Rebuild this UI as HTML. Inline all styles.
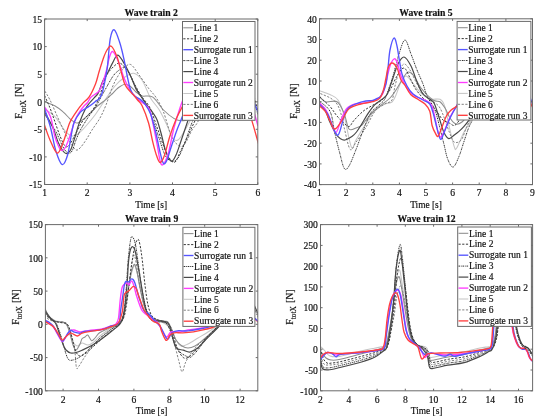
<!DOCTYPE html>
<html><head><meta charset="utf-8"><title>Wave trains</title>
<style>html,body{margin:0;padding:0;background:#fff;overflow:hidden}svg{display:block}</style></head>
<body><svg width="550" height="420" viewBox="0 0 550 420" font-family='"Liberation Serif", "Times New Roman", serif' font-size="9.6" fill="#111">
<style>text{stroke:#111;stroke-width:0.18px}</style>
<rect width="550" height="420" fill="#fff"/>
<clipPath id="cTL"><rect x="44.6" y="19" width="213.2" height="165.5"/></clipPath>
<g clip-path="url(#cTL)" fill="none" stroke-linejoin="round">
<path d="M43,108C46.9,110.8 51,112.5 54.7,116.4C58.4,120.3 62.5,128.1 65.4,131.4C68.3,134.7 69.9,135.6 72,136C74.1,136.4 75.7,135.7 78,134C80.3,132.3 83.2,129.2 86,126C88.8,122.8 91.8,119.3 95,115C98.2,110.7 101.7,104.8 105,100C108.3,95.2 111.7,89.8 115,86C118.3,82.2 121.9,79.1 125,77C128.1,74.9 130.9,72.8 133.7,73.3C136.5,73.8 139.2,75.9 142,80C144.8,84.1 147.6,93 150.5,98C153.4,103 156.4,105.2 159.3,110C162.2,114.8 165.7,122.4 167.8,127C169.9,131.6 170.4,135.6 172.1,137.8C173.8,140 175.8,141.3 178,140C180.2,138.7 182.2,134.7 185,130C187.8,125.3 191.7,117.3 195,112C198.3,106.7 201.7,102.7 205,98" stroke="#c6c6c6" stroke-width="1.05"/>
<path d="M43,101C46.9,102.6 51.3,103.9 54.7,105.7C58.1,107.5 60.8,109.9 63.3,112.1C65.8,114.2 67.9,117 69.7,118.6C71.5,120.2 72.6,121.1 74,121.8C75.4,122.5 76.2,123.7 78.3,122.8C80.4,121.9 83.9,118.9 86.8,116.4C89.7,113.9 92.2,110.7 95.4,107.8C98.6,104.9 103.3,101.6 106.1,99.3C108.9,97 110,95.9 112,94C114,92.1 115.9,89.6 118,88C120.1,86.4 122.8,84.5 124.8,84.2C126.8,83.9 128.1,84.7 130,86C131.9,87.3 134,90.3 136,92C138,93.7 139.2,95.2 142,96C144.8,96.8 149.2,94.8 152.8,97.1C156.4,99.4 159.9,106.4 163.5,110C167.1,113.6 171,116.8 174.2,118.6C177.4,120.4 180.2,120.8 182.8,120.7C185.4,120.6 187.1,120.1 190,118C192.9,115.9 196.7,111.3 200,108" stroke="#8c8c8c" stroke-width="1.05"/>
<path d="M43,88C45.3,92 47.5,95 50,100C52.5,105 55.5,112.5 58,118C60.5,123.5 62.7,128.5 65,133C67.3,137.5 70.2,142.2 72,145C73.8,147.8 74.7,149.5 76,150C77.3,150.5 78.3,149.7 80,148C81.7,146.3 84,143 86,140C88,137 89.7,133.7 92,130C94.3,126.3 97.7,122.2 100,118C102.3,113.8 104,110 106,105C108,100 110,92.8 112,88C114,83.2 116,79.3 118,76C120,72.7 121.9,69.9 124,68C126.1,66.1 128.3,63.5 130.7,64.5C133.1,65.5 135.6,70.3 138.6,74.3C141.6,78.2 145.5,84.2 148.5,88.2C151.5,92.2 153.9,94 156.4,98C158.9,102 160.9,105.4 163.5,112C166.1,118.6 169.2,132.1 172.1,137.8C175,143.5 178.4,145.7 180.7,146.4C183,147.1 184.1,144.7 186,142C187.9,139.3 190.1,133.2 192,130C193.9,126.8 195.5,126.1 197.3,122.8C199.1,119.5 201.1,114.3 203,110" stroke="#808080" stroke-width="1.0" stroke-dasharray="2.2,1.5"/>
<path d="M43,92C45.3,97.3 48,103 50,108C52,113 53.3,117.3 55,122C56.7,126.7 58.3,131.9 60,136C61.7,140.1 63.7,145.1 65.4,146.4C67.1,147.7 68.2,146.2 70,144C71.8,141.8 74,136.7 76,133C78,129.3 80,125 82,122C84,119 86,117.3 88,115C90,112.7 92,111.3 94,108C96,104.7 98,100.3 100,95C102,89.7 103.5,81.2 106,76.3C108.5,71.4 112.4,67.5 114.9,65.4C117.4,63.3 118.5,62.3 120.8,63.5C123.1,64.7 126.3,68.8 128.7,72.4C131.1,76 132.8,80.9 135,85C137.2,89.1 139.5,93.2 142,97C144.5,100.8 147.3,102.5 150,108C152.7,113.5 155.3,122.7 158,130C160.7,137.3 163.3,146.6 166,152C168.7,157.4 171.8,162.7 174.2,162.5C176.6,162.3 178.5,154.8 180.7,150.7C182.8,146.6 184.9,142.5 187.1,137.8C189.3,133.2 191.8,127.4 194,122.8C196.2,118.2 198,114.3 200,110" stroke="#383838" stroke-width="1.0" stroke-dasharray="2.2,1.5"/>
<path d="M43,112C47,118 51.7,124.2 55,130C58.3,135.8 60.8,143.2 63,147C65.2,150.8 66.5,152.3 68,153C69.5,153.7 70.7,153.2 72,151C73.3,148.8 74.6,143.5 76,140C77.4,136.5 78.4,133.8 80.4,130C82.5,126.2 85.9,120.8 88.3,117.1C90.7,113.4 93,111 95,108C97,105 98.3,102 100,99C101.7,96 102.8,93.8 105,90C107.2,86.2 110.6,79.6 112.9,76.3C115.2,73 116.8,71.9 118.8,70.4C120.8,68.9 122.9,66.6 124.8,67.4C126.7,68.2 128.1,71.6 130,75C131.9,78.4 134,84.2 136,88C138,91.8 139.7,94 142,98C144.3,102 147.3,105.8 150,112C152.7,118.2 155.5,127.8 158,135C160.5,142.2 162.7,150.6 165,155C167.3,159.4 169.9,160.9 172.1,161.4C174.3,161.9 176,160.7 178,158C180,155.3 182,150 184,145C186,140 188,133.5 190,128C192,122.5 194,117.3 196,112" stroke="#333" stroke-width="1.0" stroke-dasharray="1.6,0.8,0.8,0.8"/>
<path d="M43,109C46.2,115 50.1,121.6 52.6,127.1C55.1,132.6 56.3,138 58,142C59.7,146 61.6,149.1 63,151C64.4,152.9 65.1,153.8 66.4,153.6C67.7,153.4 69.2,152.8 70.6,150C72,147.2 73.6,141.4 75,137C76.4,132.6 77.3,128.2 79.1,123.5C80.9,118.8 83.8,112.1 85.6,108.6C87.4,105.1 88.6,104.3 90,102.5C91.4,100.7 92.7,99.4 94.1,97.8C95.5,96.2 96.9,95.6 98.3,92.9C99.7,90.2 101.2,84.5 102.6,81.4C104,78.3 105.2,77.4 106.9,74.3C108.6,71.2 110.8,66.1 112.6,62.9C114.4,59.7 115.8,54.9 117.8,55.2C119.8,55.5 122.7,61 124.8,64.5C126.9,68 128.7,72 130.7,76.3C132.7,80.5 134.7,86.4 136.6,90C138.5,93.6 140.4,95.5 142.1,98C143.8,100.5 145.2,102.5 147,105C148.8,107.5 151.3,110.5 153,113C154.7,115.5 155.8,116.7 157.1,120C158.4,123.3 159.5,127.7 161,133C162.5,138.3 164.3,147.3 166,152C167.7,156.7 169.7,160.6 171.4,161.1C173.1,161.6 174.4,158.3 176,155C177.6,151.7 179,146.8 181,141C183,135.2 186.1,125.8 188.1,120C190.1,114.2 191,110.2 193,106C195,101.8 197.7,98.7 200,95" stroke="#484848" stroke-width="1.2"/>
<path d="M43,105C45.5,108.8 48.4,111.3 50.4,116.4C52.4,121.5 53.4,130.9 54.7,135.7C56,140.5 56.9,142.5 58,145C59.1,147.5 60.3,150 61.5,150.5C62.7,151 63.8,149.8 65,148C66.2,146.2 67.3,143 68.5,140C69.7,137 71,132.8 71.9,130C72.8,127.2 73.2,125.2 74,122.9C74.8,120.6 75.8,118.4 76.9,116.4C78,114.4 79.2,112.4 80.4,110.7C81.6,109 82.8,107.4 84,106C85.2,104.6 86.4,104 87.6,102.5C88.8,101 89.5,98.7 91.1,97.1C92.6,95.5 95.5,94.1 96.9,92.9C98.3,91.7 98.5,92.4 99.7,90C100.9,87.6 102.8,82.2 104,78.6C105.2,75 106,72.2 106.9,68.6C107.8,65 108.5,59.8 109.5,57C110.5,54.2 111.4,50.7 112.9,51.6C114.5,52.5 117,58.1 118.8,62.5C120.6,66.9 122.1,73.4 124,78C125.9,82.6 127.7,86.5 130,90C132.3,93.5 134.7,96.3 137.8,99.3C140.9,102.3 146,103.9 148.5,107.8C151,111.7 151.4,116.7 152.8,122.8C154.2,128.9 155.7,137.3 157.1,144.3C158.5,151.3 159.6,162.8 161.4,164.6C163.2,166.4 165.7,161.2 167.8,155C169.9,148.8 172,135.3 174.2,127.1C176.3,118.9 178.7,111.5 180.7,105.7C182.7,99.9 184.2,96.6 186,92" stroke="#ff3cff" stroke-width="1.35"/>
<path d="M43,104C45.5,111.7 48.3,119.2 50.4,127C52.5,134.8 53.8,144.4 55.8,150.7C57.8,157 60.2,163.9 62.2,164.6C64.2,165.3 66.2,159.5 67.6,155C69,150.5 69.7,143.2 70.8,137.8C71.9,132.4 72.4,127.1 74,122.8C75.6,118.5 78.3,114.6 80.4,112.1C82.5,109.6 85.2,108.9 86.8,107.8C88.4,106.7 88.6,106.8 90,105.7C91.4,104.6 93.8,102.7 95.4,101.4C97,100.2 98.4,100.1 99.7,98.2C101,96.3 101.8,95 103,90C104.2,85 106,76.9 107.2,68.4C108.4,59.9 109,45.2 110.2,38.8C111.4,32.4 112.7,29.2 114.3,29.9C115.9,30.6 118.2,37.9 119.8,42.7C121.4,47.5 122.5,52.6 123.8,58.5C125.1,64.4 126.6,73 127.7,78.3C128.8,83.6 129.5,87.1 130.7,90.1C131.8,93 133,94.5 134.6,96C136.2,97.5 138.3,98 140,99.3C141.7,100.6 143.2,101.5 145,104C146.8,106.5 148.9,109.4 150.7,114.3C152.5,119.2 154.4,127.2 156,133.5C157.6,139.8 158.8,147 160,152C161.2,157 162.3,162.2 163.5,163.5C164.7,164.8 165.9,162.1 167,160C168.1,157.9 168.4,155.5 170,150.7C171.6,145.9 174.6,136.4 176.4,131.4C178.2,126.4 179.3,124.3 180.7,120.7C182.1,117.1 183.4,113.5 185,110C186.6,106.5 188.3,103.3 190,100" stroke="#5555ff" stroke-width="1.35"/>
<path d="M43,121C45.3,127.3 47.6,134.6 50,140C52.4,145.4 55.1,152.8 57.3,153.2C59.5,153.5 61.2,147.2 63.3,142.1C65.4,137 67.6,127.8 69.7,122.8C71.8,117.8 74,115.3 76.1,112.1C78.2,108.9 80.3,106.1 82.5,103.6C84.7,101.1 86.8,100.3 89,97.1C91.2,93.9 93.7,88.4 95.4,84.2C97.1,80 97.7,76.3 99,72C100.3,67.7 102,62.2 103.3,58.5C104.6,54.8 105.7,52 107,50C108.3,48 109.6,45.2 111.3,46.3C113,47.4 115.3,52.5 116.9,56.5C118.5,60.5 119.5,65.8 120.8,70.4C122.1,75 123.2,80.6 124.8,84.2C126.4,87.8 129.2,90.3 130.7,92.1C132.2,93.9 132.4,93.7 133.6,95C134.8,96.3 136.2,98.2 137.6,100C139,101.8 140.3,101.9 142.1,105.7C143.9,109.5 146.7,116.7 148.5,122.8C150.3,128.9 151.4,136.4 152.8,142.1C154.2,147.8 155.8,153.7 157.1,157.1C158.3,160.5 159.1,162.8 160.3,162.5C161.6,162.2 163,159.5 164.6,155C166.2,150.5 168,141.8 170,135.7C172,129.6 174.5,123.2 176.4,118.6C178.3,113.9 179.8,111.2 181.7,107.8C183.6,104.4 185.9,101.3 188,98" stroke="#ff4040" stroke-width="1.35"/>
<path d="M252,90C253,93.3 254,96.3 255,100C256,103.7 257,108 258,112" stroke="#383838" stroke-width="1.0" stroke-dasharray="2.2,1.5"/>
<path d="M252,93C253,96.7 254,100.3 255,104C256,107.7 257,111.3 258,115" stroke="#333" stroke-width="1.0" stroke-dasharray="1.6,0.8,0.8,0.8"/>
<path d="M253,100C254.1,102.6 255.4,105.6 256.4,107.9C257.4,110.2 258.1,112 259,114" stroke="#5555ff" stroke-width="1.35"/>
<path d="M253,110C253.9,112.6 254.9,115.2 255.7,117.9C256.5,120.6 257.2,123.3 258,126" stroke="#ff3cff" stroke-width="1.35"/>
<path d="M250,116C250.7,117.8 250.8,117.3 252.1,121.4C253.4,125.5 256.5,136.8 257.6,140.7C258.8,144.6 258.5,143.6 259,145" stroke="#ff4040" stroke-width="1.35"/>
</g>
<rect x="44.6" y="19" width="213.2" height="165.5" fill="none" stroke="#6a6a6a" stroke-width="1"/>
<text x="44.6" y="196.2" text-anchor="middle">1</text>
<text x="87.2" y="196.2" text-anchor="middle">2</text>
<text x="129.9" y="196.2" text-anchor="middle">3</text>
<text x="172.5" y="196.2" text-anchor="middle">4</text>
<text x="215.2" y="196.2" text-anchor="middle">5</text>
<text x="257.8" y="196.2" text-anchor="middle">6</text>
<text x="42" y="188.2" text-anchor="end">-15</text>
<text x="42" y="160.6" text-anchor="end">-10</text>
<text x="42" y="133" text-anchor="end">-5</text>
<text x="42" y="105.5" text-anchor="end">0</text>
<text x="42" y="77.9" text-anchor="end">5</text>
<text x="42" y="50.3" text-anchor="end">10</text>
<text x="42" y="22.7" text-anchor="end">15</text>
<path d="M44.6,184.5V182.4M44.6,19V21.1M87.2,184.5V182.4M87.2,19V21.1M129.9,184.5V182.4M129.9,19V21.1M172.5,184.5V182.4M172.5,19V21.1M215.2,184.5V182.4M215.2,19V21.1M257.8,184.5V182.4M257.8,19V21.1M44.6,184.5H46.7M257.8,184.5H255.7M44.6,156.9H46.7M257.8,156.9H255.7M44.6,129.3H46.7M257.8,129.3H255.7M44.6,101.8H46.7M257.8,101.8H255.7M44.6,74.2H46.7M257.8,74.2H255.7M44.6,46.6H46.7M257.8,46.6H255.7M44.6,19H46.7M257.8,19H255.7" stroke="#6a6a6a" stroke-width="1" fill="none"/>
<text x="151.2" y="16.2" text-anchor="middle" font-weight="bold" font-size="9.7">Wave train 2</text>
<text x="151.2" y="207.5" text-anchor="middle" font-size="9.4">Time [s]</text>
<text transform="translate(22.3,101.2) rotate(-90)" text-anchor="middle" font-size="10">F<tspan font-size="7.4" dy="3.2" style="stroke-width:0.15px">totX</tspan><tspan dy="-3.2" dx="0.8" font-size="9.6"> [N]</tspan></text>
<rect x="182.5" y="21.5" width="72.5" height="98.8" fill="#fff" stroke="#6a6a6a" stroke-width="1"/>
<path d="M183.3,27.8H193.1" stroke="#8c8c8c" stroke-width="1.05"/>
<text x="193.7" y="31" font-size="9.5">Line 1</text>
<path d="M183.3,38.8H193.1" stroke="#383838" stroke-width="1.0" stroke-dasharray="2.2,1.5"/>
<text x="193.7" y="42" font-size="9.5">Line 2</text>
<path d="M183.3,49.7H193.1" stroke="#5555ff" stroke-width="1.35"/>
<text x="193.7" y="52.9" font-size="9.5">Surrogate run 1</text>
<path d="M183.3,60.6H193.1" stroke="#333" stroke-width="1.0" stroke-dasharray="1.6,0.8,0.8,0.8"/>
<text x="193.7" y="63.8" font-size="9.5">Line 3</text>
<path d="M183.3,71.6H193.1" stroke="#484848" stroke-width="1.2"/>
<text x="193.7" y="74.8" font-size="9.5">Line 4</text>
<path d="M183.3,82.5H193.1" stroke="#ff3cff" stroke-width="1.35"/>
<text x="193.7" y="85.8" font-size="9.5">Surrogate run 2</text>
<path d="M183.3,93.5H193.1" stroke="#c6c6c6" stroke-width="1.05"/>
<text x="193.7" y="96.7" font-size="9.5">Line 5</text>
<path d="M183.3,104.4H193.1" stroke="#808080" stroke-width="1.0" stroke-dasharray="2.2,1.5"/>
<text x="193.7" y="107.6" font-size="9.5">Line 6</text>
<path d="M183.3,115.4H193.1" stroke="#ff4040" stroke-width="1.35"/>
<text x="193.7" y="118.6" font-size="9.5">Surrogate run 3</text>
<clipPath id="cTR"><rect x="319.5" y="18.8" width="213" height="165.8"/></clipPath>
<g clip-path="url(#cTR)" fill="none" stroke-linejoin="round">
<path d="M317,89.8C321.3,91.4 326.4,92.8 329.9,94.5C333.4,96.2 335.6,96.6 338,100C340.4,103.4 341.8,107.2 344,115C346.2,122.8 349.3,142.7 351.3,146.9C353.3,151.1 353.7,143.7 356,140C358.3,136.3 361.8,130 365,125C368.2,120 371.7,113.5 375,110C378.3,106.5 382.2,105.3 385,104C387.8,102.7 390.2,103.5 392,102C393.8,100.5 394.5,98.3 396,95C397.5,91.7 399.3,85.2 401,82C402.7,78.8 404.2,76 406,76C407.8,76 409.7,79.3 412,82C414.3,84.7 417,89.2 420,92C423,94.8 426.7,97.8 430,99C433.3,100.2 437.5,98.1 440,99.3C442.5,100.5 443.2,101.6 444.8,106.4C446.4,111.2 447.9,121.2 449.5,127.9C451.1,134.7 453.1,143.6 454.3,146.9C455.5,150.2 455.1,150.4 456.7,148C458.3,145.6 461.4,137.2 463.8,132.6C466.2,128 469,124.1 471,120.7C473,117.3 474.3,114.9 476,112" stroke="#c6c6c6" stroke-width="1.05"/>
<path d="M317,93.3C319.7,96.1 321.8,100.3 325.1,101.7C328.4,103.1 333.8,99.7 337,101.7C340.2,103.7 342.2,109 344.2,113.6C346.2,118.1 347,126.6 349,129C351,131.4 353.9,128.6 356.1,127.9C358.3,127.2 359.7,127.2 362,125C364.3,122.8 367,118.2 370,115C373,111.8 376.7,108.8 380,106C383.3,103.2 387.3,100.7 390,98C392.7,95.3 394,93 396,90C398,87 400,83 402,80C404,77 406,72.7 408,72C410,71.3 411.8,73.3 414,76C416.2,78.7 417.8,84 421,88C424.2,92 429.8,97.7 433,100C436.2,102.3 438,100.4 440,101.7C442,103 443.3,105.3 445,108C446.7,110.7 448.2,115.3 450,118C451.8,120.7 454,123.3 456,124C458,124.7 460,123.5 462,122C464,120.5 466,117.3 468,115C470,112.7 472,110.3 474,108" stroke="#8c8c8c" stroke-width="1.05"/>
<path d="M317,92.1C322.1,94.5 328.6,96.5 332.3,99.3C336,102.1 337.4,104 339.4,108.8C341.4,113.6 342.4,121.2 344.2,127.9C346,134.7 348.1,146.9 350.1,149.3C352.1,151.7 353.5,145.7 356.1,142.1C358.7,138.5 362.4,133.1 365.6,127.9C368.8,122.8 371.9,115.2 375.1,111.2C378.3,107.2 381.9,105.9 384.7,104C387.5,102.1 390.3,103 392,100C393.7,97 393.8,90.7 395,86C396.2,81.3 397.5,75.7 399,72C400.5,68.3 402.2,64.3 404,64C405.8,63.7 408,67 410,70C412,73 414,78.3 416,82C418,85.7 419.7,89 422,92C424.3,95 427,97.3 430,100C433,102.7 436.8,102.6 440,108C443.2,113.4 447.1,126.9 449.5,132.6C451.9,138.3 452.3,140.9 454.3,142.1C456.3,143.3 459.4,142.2 461.4,139.8C463.4,137.4 464.6,131.5 466.2,127.9C467.8,124.3 469.4,121.3 471,118" stroke="#808080" stroke-width="1.0" stroke-dasharray="2.2,1.5"/>
<path d="M317,94.5C321.3,98.5 326.6,102.8 329.9,106.4C333.2,110 334.2,112.8 337,116C339.8,119.2 344.4,123.8 346.6,125.5C348.8,127.2 348.8,126.8 350,126C351.2,125.2 351.5,123.2 353.7,120.7C355.9,118.2 360,113.8 363.2,111.2C366.4,108.6 369.7,107.1 372.8,105.2C375.9,103.3 379.1,102.5 382,100C384.9,97.5 387.5,94 390,90C392.5,86 394.7,79.7 397,76C399.3,72.3 401.8,67.7 404,68C406.2,68.3 408.2,74.7 410,78C411.8,81.3 413,84.8 415,88C417,91.2 419.5,94.3 422,97C424.5,99.7 427.5,101.5 430,104C432.5,106.5 434.8,109.3 437,112C439.2,114.7 440.9,118.2 443,120C445.1,121.8 447.6,122.2 449.5,123.1C451.4,124 452.7,125.9 454.3,125.5C455.9,125.1 457.2,123 459,120.7C460.8,118.5 463.2,114.6 465,112C466.8,109.4 468.3,107.3 470,105" stroke="#383838" stroke-width="1.0" stroke-dasharray="2.2,1.5"/>
<path d="M317,99.3C321.3,103.3 326.9,105.7 329.9,111.2C332.8,116.8 333.1,125.8 334.7,132.6C336.3,139.3 337.8,145.8 339.4,151.7C341,157.6 342.6,165.9 344.2,168.3C345.8,170.7 347,169.2 349,166C351,162.8 353.7,155.3 356.1,149.3C358.5,143.3 360.8,136.1 363.2,130.2C365.6,124.2 368,117.6 370.4,113.6C372.8,109.6 375.1,108.8 377.5,106.4C379.9,104 382.8,102.4 384.7,99.3C386.6,96.2 387.6,91.9 389,88C390.4,84.1 391.3,81.7 393,76C394.7,70.3 397,60 399,54C401,48 403,40 405,40C407,40 409,49 411,54C413,59 415,65 417,70C419,75 421.3,79.5 423,84C424.7,88.5 425.5,92.8 427.4,96.9C429.3,101 432.5,104 434.5,108.8C436.5,113.6 437.7,119.5 439.3,125.5C440.9,131.4 442.6,138.9 444,144.5C445.4,150.1 446.1,155 447.6,158.8C449.1,162.6 451.2,167.5 453.1,167.1C455,166.7 457.2,160.6 459,156.4C460.8,152.2 462.2,146.8 463.8,142.1C465.4,137.3 467.2,131.5 468.6,127.9C470,124.3 470.9,123.4 472.1,120.7C473.3,118 474.7,114.9 476,112" stroke="#333" stroke-width="1.0" stroke-dasharray="1.6,0.8,0.8,0.8"/>
<path d="M317,101C319.6,103.8 322.8,106.1 324.8,109.4C326.9,112.7 327.4,116.5 329.3,120.7C331.2,124.9 334.2,131.3 336.1,134.3C338,137.3 339.1,137.9 340.6,138.8C342.1,139.8 343.2,140.4 345.1,140C347,139.6 350,137.9 351.9,136.6C353.8,135.3 355,133.9 356.5,132C358,130.1 359.1,128.2 361,125.2C362.9,122.2 365.5,117.3 367.8,113.9C370.1,110.5 372.4,107.2 374.6,104.9C376.8,102.6 378.9,101.7 381,100C383.1,98.3 385,98.2 387,94.5C389,90.8 391.2,83.1 393,78C394.8,72.9 396.2,67.5 398,64C399.8,60.5 401.8,56.7 404,57C406.2,57.3 408.8,61.8 411,66C413.2,70.2 415,77.3 417,82C419,86.7 420.7,91 423,94C425.3,97 429.1,98.3 431,100C432.9,101.7 433.1,101 434.5,104C435.9,107 437.7,113.5 439.3,118.3C440.9,123.1 442.4,129.2 444,132.6C445.6,136 447.1,138.2 448.8,138.6C450.5,139 452.6,136.2 454.3,135C456,133.8 457.4,132.8 459,131.4C460.6,130 462.2,128.5 463.8,126.7C465.4,124.9 466.9,123.2 468.6,120.7C470.3,118.2 472.2,114.9 474,112" stroke="#484848" stroke-width="1.2"/>
<path d="M317,100.5C320,103.7 323.7,106.4 326,110C328.3,113.6 329.4,118.2 331,122C332.6,125.8 334.2,132.9 335.9,132.6C337.6,132.3 339.2,124 341,120C342.8,116 344.3,111.5 346.6,108.8C348.9,106.1 351.8,105 355,104C358.2,103 362.3,103.6 365.6,102.9C368.9,102.2 372.2,101.4 375,100C377.8,98.6 380.5,97.5 382.3,94.5C384.1,91.5 384.7,86.8 386,82C387.3,77.2 388.7,69.8 390,66C391.3,62.2 392.8,59.7 394,59C395.2,58.3 395.8,59.2 397,62C398.2,64.8 399.3,71.7 401,76C402.7,80.3 404.7,84.7 407,88C409.3,91.3 411.7,93.8 415,96C418.3,98.2 424.2,99.3 427,101C429.8,102.7 430.7,103.2 432,106C433.3,108.8 433.8,113 435,118C436.2,123 437.9,133.8 439.3,136.2C440.7,138.6 441.9,135.6 443.6,132.6C445.3,129.6 447.5,122.5 449.5,118.3C451.5,114.1 453.8,110.6 455.5,107.6C457.2,104.5 458.5,102.5 460,100" stroke="#ff3cff" stroke-width="1.35"/>
<path d="M317,101.7C320.5,105.7 324.9,109.6 327.5,113.6C330.1,117.6 330.5,121.9 332.3,125.5C334.1,129.1 336.2,136.6 338.2,135C340.2,133.4 342.4,120.6 344.2,116C346,111.4 346.6,109.8 349,107.6C351.4,105.4 355.7,104 358.5,102.9C361.3,101.8 363.6,101.4 366,101C368.4,100.6 370.8,101 372.8,100.5C374.8,100 376.6,98.8 378,98C379.4,97.2 379.8,98 381.1,95.7C382.4,93.4 384.9,88.6 386,84C387.1,79.4 387.3,73.7 388,68C388.7,62.3 389,55 390,50C391,45 392.8,38.7 394,38C395.2,37.3 396.2,42.7 397,46C397.8,49.3 398.2,53.3 399,58C399.8,62.7 400.7,69.3 402,74C403.3,78.7 405.2,82.7 407,86C408.8,89.3 410.3,91.7 413,94C415.7,96.3 420.2,98.3 423,100C425.8,101.7 428.1,101.7 429.8,104C431.5,106.3 432.1,109.6 433.3,113.6C434.5,117.6 435.7,123.6 436.9,127.9C438.1,132.2 439.3,138.5 440.5,139.3C441.7,140.1 442.6,135.7 444,132.6C445.4,129.5 447.2,124.3 448.8,120.7C450.4,117.1 452.1,114 453.6,111.2C455.1,108.4 456.1,106.7 458,104C459.9,101.3 462.7,98 465,95" stroke="#5555ff" stroke-width="1.35"/>
<path d="M317,104C319.7,106.4 323,108.4 325.1,111.2C327.2,114 328.3,117.7 329.9,120.7C331.5,123.7 332.7,129 334.7,129C336.7,129 339.4,124.1 341.8,120.7C344.2,117.3 345.8,111.6 349,108.8C352.2,106 356.9,105.2 360.9,104C364.9,102.8 369.6,102.7 372.8,101.7C376,100.7 378.1,100.1 379.9,98.1C381.7,96.1 382.5,93.1 383.5,89.8C384.5,86.5 385.2,81.6 386,78C386.8,74.4 387,70.5 388,68C389,65.5 390.5,63 392,63C393.5,63 395.5,65.2 397,68C398.5,70.8 399.7,77.2 401,80C402.3,82.8 403.2,82.6 404.8,85C406.4,87.4 408.5,92.1 410.7,94.5C412.9,96.9 415.5,97.7 417.9,99.3C420.3,100.9 423,102 425,104C427,106 428.6,107.6 429.8,111.2C431,114.8 431.1,121.7 432.1,125.5C433.1,129.3 434.7,132 435.7,133.8C436.7,135.6 437.1,137.2 438.1,136.2C439.1,135.2 440.3,131.3 441.7,127.9C443.1,124.5 444.8,119 446.4,116C448,113 449.5,111.6 451.2,110C452.9,108.4 454.9,107.6 456.7,106.4C458.5,105.2 460.2,104.1 462,103" stroke="#ff4040" stroke-width="1.35"/>
<path d="M529,94C529.7,96 530.2,97.8 531,100C531.8,102.2 533,104.7 534,107" stroke="#5555ff" stroke-width="1.35"/>
<path d="M529,98C529.7,100 530.2,102 531,104C531.8,106 533,108 534,110" stroke="#ff4040" stroke-width="1.35"/>
</g>
<rect x="319.5" y="18.8" width="213" height="165.8" fill="none" stroke="#6a6a6a" stroke-width="1"/>
<text x="319.5" y="196.3" text-anchor="middle">1</text>
<text x="346.1" y="196.3" text-anchor="middle">2</text>
<text x="372.8" y="196.3" text-anchor="middle">3</text>
<text x="399.4" y="196.3" text-anchor="middle">4</text>
<text x="426" y="196.3" text-anchor="middle">5</text>
<text x="452.6" y="196.3" text-anchor="middle">6</text>
<text x="479.2" y="196.3" text-anchor="middle">7</text>
<text x="505.9" y="196.3" text-anchor="middle">8</text>
<text x="532.5" y="196.3" text-anchor="middle">9</text>
<text x="316.9" y="188.3" text-anchor="end">-40</text>
<text x="316.9" y="167.6" text-anchor="end">-30</text>
<text x="316.9" y="146.8" text-anchor="end">-20</text>
<text x="316.9" y="126.1" text-anchor="end">-10</text>
<text x="316.9" y="105.4" text-anchor="end">0</text>
<text x="316.9" y="84.7" text-anchor="end">10</text>
<text x="316.9" y="64" text-anchor="end">20</text>
<text x="316.9" y="43.2" text-anchor="end">30</text>
<text x="316.9" y="22.5" text-anchor="end">40</text>
<path d="M319.5,184.6V182.5M319.5,18.8V20.9M346.1,184.6V182.5M346.1,18.8V20.9M372.8,184.6V182.5M372.8,18.8V20.9M399.4,184.6V182.5M399.4,18.8V20.9M426,184.6V182.5M426,18.8V20.9M452.6,184.6V182.5M452.6,18.8V20.9M479.2,184.6V182.5M479.2,18.8V20.9M505.9,184.6V182.5M505.9,18.8V20.9M532.5,184.6V182.5M532.5,18.8V20.9M319.5,184.6H321.6M532.5,184.6H530.4M319.5,163.9H321.6M532.5,163.9H530.4M319.5,143.2H321.6M532.5,143.2H530.4M319.5,122.4H321.6M532.5,122.4H530.4M319.5,101.7H321.6M532.5,101.7H530.4M319.5,81H321.6M532.5,81H530.4M319.5,60.2H321.6M532.5,60.2H530.4M319.5,39.5H321.6M532.5,39.5H530.4M319.5,18.8H321.6M532.5,18.8H530.4" stroke="#6a6a6a" stroke-width="1" fill="none"/>
<text x="426" y="16" text-anchor="middle" font-weight="bold" font-size="9.7">Wave train 5</text>
<text x="426" y="207.6" text-anchor="middle" font-size="9.4">Time [s]</text>
<text transform="translate(296.7,101.2) rotate(-90)" text-anchor="middle" font-size="10">F<tspan font-size="7.4" dy="3.2" style="stroke-width:0.15px">totX</tspan><tspan dy="-3.2" dx="0.8" font-size="9.6"> [N]</tspan></text>
<rect x="457.1" y="21.4" width="73.8" height="98.6" fill="#fff" stroke="#6a6a6a" stroke-width="1"/>
<path d="M457.9,27.7H467.7" stroke="#8c8c8c" stroke-width="1.05"/>
<text x="468.3" y="30.9" font-size="9.5">Line 1</text>
<path d="M457.9,38.6H467.7" stroke="#383838" stroke-width="1.0" stroke-dasharray="2.2,1.5"/>
<text x="468.3" y="41.9" font-size="9.5">Line 2</text>
<path d="M457.9,49.6H467.7" stroke="#5555ff" stroke-width="1.35"/>
<text x="468.3" y="52.8" font-size="9.5">Surrogate run 1</text>
<path d="M457.9,60.5H467.7" stroke="#333" stroke-width="1.0" stroke-dasharray="1.6,0.8,0.8,0.8"/>
<text x="468.3" y="63.8" font-size="9.5">Line 3</text>
<path d="M457.9,71.5H467.7" stroke="#484848" stroke-width="1.2"/>
<text x="468.3" y="74.7" font-size="9.5">Line 4</text>
<path d="M457.9,82.5H467.7" stroke="#ff3cff" stroke-width="1.35"/>
<text x="468.3" y="85.7" font-size="9.5">Surrogate run 2</text>
<path d="M457.9,93.4H467.7" stroke="#c6c6c6" stroke-width="1.05"/>
<text x="468.3" y="96.6" font-size="9.5">Line 5</text>
<path d="M457.9,104.3H467.7" stroke="#808080" stroke-width="1.0" stroke-dasharray="2.2,1.5"/>
<text x="468.3" y="107.5" font-size="9.5">Line 6</text>
<path d="M457.9,115.3H467.7" stroke="#ff4040" stroke-width="1.35"/>
<text x="468.3" y="118.5" font-size="9.5">Surrogate run 3</text>
<clipPath id="cBL"><rect x="45.4" y="224.6" width="212.4" height="166.2"/></clipPath>
<g clip-path="url(#cBL)" fill="none" stroke-linejoin="round">
<path d="M44,308C46,311 48,314.8 50,317C52,319.2 54,320.2 56,321C58,321.8 60.3,321.5 62,322C63.7,322.5 64.7,322.2 66,324C67.3,325.8 68.8,330 70,333C71.2,336 71.8,339.8 73,342C74.2,344.2 75.5,345.8 77,346C78.5,346.2 80.2,343.2 82,343C83.8,342.8 86,345.2 88,345C90,344.8 92,343.5 94,342C96,340.5 97.7,338 100,336C102.3,334 105.3,331.8 108,330C110.7,328.2 113.8,326.5 116,325C118.2,323.5 119.7,323.2 121,321C122.3,318.8 123,316.2 124,312C125,307.8 126,301.3 127,296C128,290.7 129,284.7 130,280C131,275.3 132.2,270.3 133,268C133.8,265.7 134.2,264.7 135,266C135.8,267.3 136.8,271.2 138,276C139.2,280.8 140.5,289 142,295C143.5,301 145,307.8 147,312C149,316.2 151.5,318.3 154,320C156.5,321.7 159.3,320.7 162,322C164.7,323.3 167.7,325 170,328C172.3,331 174.2,337 176,340C177.8,343 179,345.3 181,346C183,346.7 185.2,345.3 188,344C190.8,342.7 194.7,340 198,338C201.3,336 204.7,334.2 208,332C211.3,329.8 215,327.3 218,325C221,322.7 223.3,320.3 226,318" stroke="#c6c6c6" stroke-width="1.05"/>
<path d="M44,306C45.3,309 46.7,312.7 48,315C49.3,317.3 50.3,318.8 52,320C53.7,321.2 56.2,321.7 58,322C59.8,322.3 61.5,321.5 63,322C64.5,322.5 65.8,323 67,325C68.2,327 69,330.7 70,334C71,337.3 72,342.3 73,345C74,347.7 74.8,350.2 76,350C77.2,349.8 79,345.9 80,344C81,342.1 81.2,340 82,338.8C82.8,337.6 84,337.6 85,337C86,336.4 86.7,334.4 87.8,335C88.9,335.6 90.4,340.2 91.6,340.7C92.8,341.2 93.7,339.3 95,338C96.3,336.7 97.5,334.3 99.2,333C100.9,331.7 102.9,331 105,330C107.1,329 109.8,328 112,327C114.2,326 116.3,325.2 118,324C119.7,322.8 120.8,322.3 122,320C123.2,317.7 124.1,314.2 125,310C125.9,305.8 126.7,300.3 127.5,295C128.3,289.7 128.9,283.1 130,278C131.1,272.9 132.9,265.4 134.1,264.4C135.3,263.4 136,268.1 137,272C138,275.9 138.8,282.5 140,288C141.2,293.5 142.3,300.3 144,305C145.7,309.7 147.7,313.5 150,316C152.3,318.5 155.7,319.1 158,320C160.3,320.9 162.3,321 164,321.3C165.7,321.6 166.7,320.6 168,322C169.3,323.4 170.7,327 172,330C173.3,333 174.3,337.3 176,340C177.7,342.7 180,344.7 182,346C184,347.3 185.8,348 188,348C190.2,348 192.5,347.3 195,346C197.5,344.7 200.2,342.3 203,340C205.8,337.7 209.2,334.7 212,332C214.8,329.3 217.7,326.3 220,324C222.3,321.7 224,320 226,318" stroke="#8c8c8c" stroke-width="1.05"/>
<path d="M44,316C46,317.3 48.1,319.1 50,320C51.9,320.9 53.7,321.4 55.4,321.7C57.1,322 58.1,321.7 60,322C61.9,322.3 65.1,321.8 66.9,323.6C68.7,325.4 69.4,328.9 70.7,333C72,337.1 73.5,342.6 74.5,348.3C75.5,354 75.7,364.4 76.4,367.4C77.2,370.3 77.7,367.6 79,366C80.3,364.4 81.8,361.2 84,358C86.2,354.8 89.3,350.3 92,347C94.7,343.7 97,340.8 100,338C103,335.2 107,332.3 110,330C113,327.7 116,325.5 118,324C120,322.5 120.8,322.7 122,321C123.2,319.3 124.2,317.2 125,314C125.8,310.8 126.3,306.8 127,302C127.7,297.2 128.2,291.2 129,285C129.8,278.8 130.7,270 131.5,265C132.3,260 133.2,255.5 134,255C134.8,254.5 135.3,258.7 136,262C136.7,265.3 137.2,270 138,275C138.8,280 139.8,286.5 141,292C142.2,297.5 143.5,303.7 145,308C146.5,312.3 147.8,315.8 150,318C152.2,320.2 155.5,320.3 158,321C160.5,321.7 162.7,319.7 165,322C167.3,324.3 169.8,328.7 172,335C174.2,341.3 176.8,353.6 178.5,359.7C180.2,365.8 180.9,371.3 182.1,371.7C183.3,372.1 184,365.4 185.7,362.1C187.3,358.8 189.6,355.2 192,352C194.4,348.8 197.3,345.7 200,343C202.7,340.3 205.3,338.5 208,336C210.7,333.5 213.7,330.3 216,328C218.3,325.7 220,324 222,322C224,320 226,318 228,316" stroke="#808080" stroke-width="1.0" stroke-dasharray="2.2,1.5"/>
<path d="M44,314C46.7,316 49.7,318.7 52,320C54.3,321.3 56.1,321.5 58,322C59.9,322.5 61.7,322.7 63.2,323C64.7,323.3 65.9,322.8 67,324C68.1,325.2 69,327 70,330C71,333 72,338.3 73,342C74,345.7 74.8,349.7 76,352C77.2,354.3 78.3,355.8 80,356C81.7,356.2 83.5,354.8 86,353C88.5,351.2 91.8,347.8 95,345C98.2,342.2 101.7,338.8 105,336C108.3,333.2 112.3,330.3 115,328C117.7,325.7 119.5,324 121,322C122.5,320 123.2,318.8 124,316C124.8,313.2 125.2,310.2 126,305C126.8,299.8 128,292.2 129,285C130,277.8 131,268.5 132,262C133,255.5 134,249.8 135,246C136,242.2 137.1,239.4 137.9,239.2C138.7,239 139.2,241.2 140,245C140.8,248.8 141.7,255.3 142.5,262C143.3,268.7 144.1,277.8 145,285C145.9,292.2 146.8,299.8 148,305C149.2,310.2 150.3,313.5 152,316C153.7,318.5 156,319 158,320C160,321 162,321 164,322C166,323 168.3,323.3 170,326C171.7,328.7 172.7,334 174,338C175.3,342 176.3,346.7 178,350C179.7,353.3 182,357 184,358C186,359 187.7,357.7 190,356C192.3,354.3 195.3,351 198,348C200.7,345 203.3,341 206,338C208.7,335 211.3,332.7 214,330C216.7,327.3 219.7,324.3 222,322C224.3,319.7 226,318 228,316" stroke="#383838" stroke-width="1.0" stroke-dasharray="2.2,1.5"/>
<path d="M44,309C46,311.7 48.1,314.8 50,317C51.9,319.2 53.9,319.8 55.4,322C56.9,324.2 57.7,326.5 59,330C60.3,333.5 61.8,339 63,343C64.2,347 65,351.2 66,354C67,356.8 67.6,358.8 68.8,359.8C70,360.8 71.4,360.3 73,360C74.6,359.7 76.1,359.2 78.3,357.9C80.5,356.6 82.7,355 85.9,352.1C89.1,349.2 93.6,344.1 97.3,340.7C101,337.3 104.9,334.4 108,332C111.1,329.6 114,327.6 116,326C118,324.4 118.8,324.2 120,322.5C121.2,320.8 122.2,319.2 123,316C123.8,312.8 124.4,308.2 125,303C125.6,297.8 126,291.8 126.5,285C127,278.2 127.4,269.2 128,262C128.6,254.8 129.6,245.9 130.3,241.7C131,237.5 131.2,236.2 132.1,236.6C132.9,237 134.2,238.7 135.4,244.2C136.6,249.7 137.8,261.1 139.1,269.5C140.3,277.9 141.4,287.1 142.9,294.7C144.4,302.3 146.3,310.5 148,314.9C149.7,319.3 151,319.8 153,321C155,322.2 157.8,321.7 160,322C162.2,322.3 164.3,321.7 166,323C167.7,324.3 168.7,326.8 170,330C171.3,333.2 172.3,338.3 174,342C175.7,345.7 178,349.7 180,352C182,354.3 184.2,355.1 186,356C187.8,356.9 188.6,358.3 190.5,357.3C192.4,356.3 195.3,352.9 197.7,350.1C200.1,347.3 202.5,343.3 204.9,340.5C207.3,337.7 209.7,335.7 212.1,333.3C214.5,330.9 217,328.6 219.3,326C221.6,323.4 223.8,320.7 226,318" stroke="#333" stroke-width="1.0" stroke-dasharray="1.6,0.8,0.8,0.8"/>
<path d="M44,311C46,313.3 48.1,316 50,318C51.9,320 53.9,320.5 55.4,323C56.9,325.5 57.9,329.4 59.2,333C60.5,336.6 61.9,341.7 63,344.5C64.1,347.3 64.7,348.6 66,350C67.3,351.4 69,352.6 70.7,353C72.4,353.4 74.1,353 76,352.5C77.9,352 79.1,351.5 82,350.2C84.9,348.9 89.3,347 93.5,344.5C97.7,342 103.1,337.9 106.9,335C110.7,332.1 114.2,329.3 116.4,327.4C118.6,325.5 119.1,325.2 120.2,323.6C121.3,322 122.2,320.9 123,318C123.8,315.1 124.3,311.5 125,306C125.7,300.5 126.4,292.3 127,285C127.6,277.7 128,267.8 128.5,262C129.1,256.2 129.6,252.6 130.3,250C131,247.4 132,246.4 132.8,246.7C133.7,247 134.4,247.8 135.4,252C136.4,256.2 137.8,264.9 139.1,272C140.3,279.1 141.8,288.4 142.9,294.7C144.1,301 144.8,306.1 146,310C147.2,313.9 148.3,316.2 150,318C151.7,319.8 153.7,319.9 156,320.5C158.3,321.1 161.9,320.7 164,321.3C166.1,321.9 167.5,321.7 168.8,324C170.1,326.3 170.8,331.1 172,335C173.2,338.9 174.1,345.2 176,347.7C177.9,350.2 181,349.4 183.3,350.1C185.6,350.8 187.6,352.4 190,352C192.4,351.6 195.2,349.9 197.7,348C200.2,346.1 202.5,342.9 204.9,340.5C207.3,338.1 209.7,335.7 212.1,333.3C214.5,330.9 217,328.6 219.3,326C221.6,323.4 223.8,320.7 226,318" stroke="#484848" stroke-width="1.2"/>
<path d="M44,320C45.7,321 47.4,321.8 49,323C50.6,324.2 52.1,325.2 53.5,327C54.9,328.8 56,331.6 57.4,334C58.8,336.4 60.8,340.9 62.1,341.5C63.5,342.1 64.2,339.2 65.5,337.5C66.8,335.8 68.6,332.2 70,331C71.4,329.8 72.3,329.8 74,330C75.7,330.2 78,331.8 80,332C82,332.2 83.7,331.3 86,331C88.3,330.7 91.3,330.3 94,330C96.7,329.7 99.2,329.7 102,329C104.8,328.3 108.7,326.8 111,326C113.3,325.2 114.8,325.3 116,324C117.2,322.7 117.8,322 118.5,318C119.2,314 119.6,305 120.2,300C120.8,295 121.4,290.6 122,288C122.6,285.4 123.1,285.4 124,284.6C124.9,283.8 126.7,282.9 127.5,283C128.3,283.1 128.3,285.4 129,285C129.7,284.6 130.8,280.6 131.6,280.8C132.4,281 133.2,283.5 134,286C134.8,288.5 135.3,292 136.6,296C137.9,300 140,306.8 141.7,310C143.4,313.2 145.3,313.5 147,315C148.7,316.5 150.3,317.8 152,319C153.7,320.2 155.3,320.2 157,322C158.7,323.8 160.4,327.5 162,330C163.6,332.5 165,336.7 166.5,337C168,337.3 169,332.8 171,332C173,331.2 175.7,332.3 178.5,332C181.3,331.7 184.1,330.7 188,330C191.9,329.3 198,328.8 202,328C206,327.2 209.2,326.7 212,325.5C214.8,324.3 216.8,322.4 219,321C221.2,319.6 223,318.3 225,317" stroke="#ff3cff" stroke-width="1.35"/>
<path d="M44,320C45.6,320.7 47.2,320.9 48.8,322C50.4,323.1 52.1,324.6 53.5,326.5C54.9,328.4 56,330.8 57.4,333.2C58.8,335.6 60.8,340 62.1,340.8C63.4,341.6 64,339.3 65,338C66,336.7 67,334.3 68,333C69,331.7 69.6,330.4 70.7,330.3C71.8,330.2 72.9,331.7 74.5,332.2C76.1,332.7 78.7,333.3 80.3,333.2C81.9,333.1 82.1,331.7 84.1,331.3C86.1,330.9 89.2,331.2 92.1,330.9C95,330.6 98.5,330.5 101.7,329.7C104.9,328.9 108.9,326.8 111.3,326C113.7,325.2 114.7,325.6 116.1,324.9C117.5,324.1 118.7,324 119.5,321.5C120.3,319 120.1,314.6 120.7,310C121.3,305.4 122.5,298.1 123.1,293.8C123.7,289.5 124,286.4 124.5,284.3C125,282.2 125.5,281.8 126,281.4C126.5,281 126.9,281.9 127.4,281.9C128,281.9 128.7,281.9 129.3,281.4C129.9,280.9 130.6,279.3 131.2,279C131.8,278.7 132.5,278.8 133.1,279.5C133.7,280.2 134.4,281.6 135,283.3C135.6,285.1 136.3,287.8 136.9,290C137.5,292.2 138.2,294.6 138.8,296.7C139.4,298.8 140.1,300.5 140.7,302.4C141.3,304.3 141.9,306.5 142.6,308.1C143.3,309.7 144,311.1 145,312C146,312.9 146.9,312.1 148.6,313.6C150.3,315.1 153.1,318.9 155,321C156.9,323.1 158.7,324.1 160.3,326.4C161.9,328.7 163.3,332.9 164.6,335C165.8,337.1 166.6,339.7 167.8,339.3C169.1,338.9 170.3,334.2 172.1,332.8C173.9,331.4 175.8,331 178.5,330.7C181.2,330.4 184.1,331.3 188.1,330.9C192.1,330.5 198.5,329.3 202.5,328.5C206.5,327.7 209.3,327.2 212.1,326C214.9,324.8 217.2,322.8 219.3,321.3C221.5,319.8 223.1,318.4 225,317" stroke="#5555ff" stroke-width="1.35"/>
<path d="M44,321C45.6,321.9 47.2,322.7 48.8,323.7C50.4,324.7 52,325.3 53.6,327C55.2,328.7 57,331.8 58.4,334C59.8,336.2 60.9,339.5 62.1,340C63.3,340.5 64.2,338.1 65.6,337C67,335.9 68.8,333.4 70.7,333.2C72.7,333 75.4,336 77.3,336C79.2,336 79.7,333.9 82.1,333.1C84.5,332.3 88.3,331.8 91.6,331.2C94.9,330.6 98.4,330.5 101.7,329.7C105,328.9 108.8,327.4 111.3,326.5C113.8,325.6 115.1,325.4 116.5,324.5C117.9,323.6 118.7,322.6 119.5,321C120.3,319.4 121,316.8 121.5,315C122,313.2 122.2,313.2 122.6,310C123,306.8 123.5,298.9 124,296C124.5,293.1 124.6,293.8 125.5,292.9C126.4,292 128.1,291.5 129.3,290.5C130.5,289.5 131.7,287.3 132.6,286.7C133.5,286.1 133.9,286.3 134.5,286.7C135.1,287.1 135.8,287.6 136.4,289C137,290.4 137.6,292.7 138.3,294.8C139,296.9 139.8,299 140.7,301.4C141.6,303.8 142.6,307 143.6,309C144.6,311 144.9,311.6 146.4,313.6C147.9,315.6 150.7,319.2 152.8,321C155,322.8 157.9,322.7 159.3,324.3C160.7,325.9 160.5,328.4 161.4,330.7C162.3,333 163.7,336.6 164.6,338.2C165.5,339.8 165.9,340.8 166.8,340.3C167.7,339.8 168.8,336.2 170,335C171.2,333.8 172.2,333.2 174.3,332.8C176.4,332.4 179.6,333 182.8,332.8C186,332.6 189.9,332.3 193.5,331.8C197.1,331.3 200.6,330.5 204.2,329.6C207.8,328.7 211.5,328.5 215,326.4C218.5,324.3 221.7,320.1 225,317" stroke="#ff4040" stroke-width="1.35"/>
<path d="M252,300C253,302.3 253.8,304.3 255,307C256.2,309.7 257.7,313 259,316" stroke="#484848" stroke-width="1.2"/>
<path d="M252,303C253,305.3 253.8,307.3 255,310C256.2,312.7 257.7,316 259,319" stroke="#333" stroke-width="1.0" stroke-dasharray="1.6,0.8,0.8,0.8"/>
<path d="M252,316C253,317 253.8,317.8 255,319C256.2,320.2 257.7,321.7 259,323" stroke="#ff4040" stroke-width="1.35"/>
<path d="M252,315C253,316.2 253.8,317.3 255,318.5C256.2,319.7 257.7,320.8 259,322" stroke="#5555ff" stroke-width="1.35"/>
</g>
<rect x="45.4" y="224.6" width="212.4" height="166.2" fill="none" stroke="#6a6a6a" stroke-width="1"/>
<text x="63.1" y="402.5" text-anchor="middle">2</text>
<text x="98.5" y="402.5" text-anchor="middle">4</text>
<text x="133.9" y="402.5" text-anchor="middle">6</text>
<text x="169.3" y="402.5" text-anchor="middle">8</text>
<text x="204.7" y="402.5" text-anchor="middle">10</text>
<text x="240.1" y="402.5" text-anchor="middle">12</text>
<text x="42.8" y="394.5" text-anchor="end">-100</text>
<text x="42.8" y="361.3" text-anchor="end">-50</text>
<text x="42.8" y="328" text-anchor="end">0</text>
<text x="42.8" y="294.8" text-anchor="end">50</text>
<text x="42.8" y="261.5" text-anchor="end">100</text>
<text x="42.8" y="228.3" text-anchor="end">150</text>
<path d="M63.1,390.8V388.7M63.1,224.6V226.7M98.5,390.8V388.7M98.5,224.6V226.7M133.9,390.8V388.7M133.9,224.6V226.7M169.3,390.8V388.7M169.3,224.6V226.7M204.7,390.8V388.7M204.7,224.6V226.7M240.1,390.8V388.7M240.1,224.6V226.7M45.4,390.8H47.5M257.8,390.8H255.7M45.4,357.6H47.5M257.8,357.6H255.7M45.4,324.3H47.5M257.8,324.3H255.7M45.4,291.1H47.5M257.8,291.1H255.7M45.4,257.8H47.5M257.8,257.8H255.7M45.4,224.6H47.5M257.8,224.6H255.7" stroke="#6a6a6a" stroke-width="1" fill="none"/>
<text x="151.6" y="221.8" text-anchor="middle" font-weight="bold" font-size="9.7">Wave train 9</text>
<text x="151.6" y="413.8" text-anchor="middle" font-size="9.4">Time [s]</text>
<text transform="translate(18.5,307.2) rotate(-90)" text-anchor="middle" font-size="10">F<tspan font-size="7.4" dy="3.2" style="stroke-width:0.15px">totX</tspan><tspan dy="-3.2" dx="0.8" font-size="9.6"> [N]</tspan></text>
<rect x="182.9" y="227.3" width="72" height="99.1" fill="#fff" stroke="#6a6a6a" stroke-width="1"/>
<path d="M183.7,233.6H193.5" stroke="#8c8c8c" stroke-width="1.05"/>
<text x="194.1" y="236.8" font-size="9.5">Line 1</text>
<path d="M183.7,244.6H193.5" stroke="#383838" stroke-width="1.0" stroke-dasharray="2.2,1.5"/>
<text x="194.1" y="247.8" font-size="9.5">Line 2</text>
<path d="M183.7,255.5H193.5" stroke="#5555ff" stroke-width="1.35"/>
<text x="194.1" y="258.7" font-size="9.5">Surrogate run 1</text>
<path d="M183.7,266.5H193.5" stroke="#333" stroke-width="1.0" stroke-dasharray="1.6,0.8,0.8,0.8"/>
<text x="194.1" y="269.7" font-size="9.5">Line 3</text>
<path d="M183.7,277.4H193.5" stroke="#484848" stroke-width="1.2"/>
<text x="194.1" y="280.6" font-size="9.5">Line 4</text>
<path d="M183.7,288.4H193.5" stroke="#ff3cff" stroke-width="1.35"/>
<text x="194.1" y="291.6" font-size="9.5">Surrogate run 2</text>
<path d="M183.7,299.3H193.5" stroke="#c6c6c6" stroke-width="1.05"/>
<text x="194.1" y="302.5" font-size="9.5">Line 5</text>
<path d="M183.7,310.2H193.5" stroke="#808080" stroke-width="1.0" stroke-dasharray="2.2,1.5"/>
<text x="194.1" y="313.4" font-size="9.5">Line 6</text>
<path d="M183.7,321.2H193.5" stroke="#ff4040" stroke-width="1.35"/>
<text x="194.1" y="324.4" font-size="9.5">Surrogate run 3</text>
<clipPath id="cBR"><rect x="320.5" y="224.6" width="212.1" height="166.2"/></clipPath>
<g clip-path="url(#cBR)" fill="none" stroke-linejoin="round">
<path d="M318,345C319,345.7 319.8,346 321,347C322.2,348 323.5,349.5 325,351C326.5,352.5 327.6,355.1 330,356C332.4,356.9 334.2,357.3 339.4,356.5C344.6,355.7 355.2,352.4 361,351C366.8,349.6 370.8,348.9 374.4,348.2C378,347.5 381.1,347 382.9,346.6C384.7,346.2 384.7,346.8 385.4,346.1C386.1,345.4 386.6,344.1 387.2,342.3C387.8,340.5 388.1,338.3 388.7,335C389.3,331.7 390.2,327.1 390.9,322.5C391.6,317.9 392.3,313.7 393.1,307.4C393.8,301.1 394.4,291.1 395.4,284.8C396.4,278.6 398.1,271 399.1,270C400.1,269 400.7,275.1 401.4,278.8C402.1,282.5 402.7,287.6 403.4,292.4C404.1,297.1 404.7,301.8 405.5,307.4C406.3,313.1 407.4,321.1 408.4,326.2C409.4,331.4 410.3,335.4 411.6,338.5C412.9,341.6 414.7,343.8 416.4,345C418.1,346.2 420.1,345.5 421.8,346C423.5,346.5 425.6,346.2 426.8,348C428,349.8 427.8,355.1 429.1,356.6C430.4,358.1 431.4,357.4 434.4,357C437.4,356.6 442.2,355.1 447.1,354.2C451.9,353.3 458,352.7 463.5,351.7C469,350.7 475.9,348.8 479.9,348C483.9,347.2 485.5,347.2 487.4,346.9C489.3,346.6 490.1,347.4 491.3,346.2C492.5,345 493.8,342.5 494.6,339.8C495.4,337.1 495.6,335.4 496.2,330C496.8,324.6 497.7,314.9 498.4,307.4C499.1,299.9 499.7,292.4 500.4,284.8" stroke="#c6c6c6" stroke-width="1.05"/>
<path d="M318,348C319.3,349.7 320.7,351.3 322,353C323.3,354.7 324.5,356.8 326,358C327.5,359.2 328.8,359.8 331,360C333.2,360.2 334.1,360.5 339,359.5C343.9,358.5 354.8,355.5 360.6,354C366.4,352.5 370.4,351.6 374,350.6C377.6,349.6 380.7,348.4 382.5,347.8C384.3,347.2 384.3,347.8 385,346.9C385.7,345.9 386.2,344.3 386.8,342.3C387.4,340.3 387.7,338.2 388.3,335C388.9,331.8 389.8,327.5 390.5,323.3C391.2,319.1 391.9,315.5 392.7,309.9C393.4,304.3 394,295.3 395,289.8C396,284.2 397.7,277.5 398.7,276.6C399.7,275.7 400.3,281.1 401,284.4C401.7,287.8 402.3,292.3 403,296.5C403.7,300.7 404.3,304.9 405.1,309.9C405.9,314.9 407,321.9 408,326.6C409,331.4 409.9,335.4 411.2,338.5C412.5,341.6 414.3,343.6 416,345C417.7,346.4 419.7,345.8 421.4,346.7C423.1,347.6 425.2,348.1 426.4,350.3C427.6,352.4 427.4,358 428.7,359.6C430,361.2 431,360.4 434,360C437,359.6 441.8,358.1 446.7,357.2C451.6,356.3 457.6,355.9 463.1,354.7C468.6,353.5 475.5,351.3 479.5,350.2C483.5,349.2 485.1,348.8 487,348.3C488.9,347.8 489.7,348.6 490.9,347.1C492.1,345.7 493.4,342.7 494.2,339.8C495,336.9 495.2,335 495.8,330C496.4,325 497.3,316.6 498,309.9C498.7,303.2 499.3,296.5 500,289.8" stroke="#8c8c8c" stroke-width="1.05"/>
<path d="M318,349C319,351.7 320,354.5 321,357C322,359.5 322.7,362.7 324,364C325.3,365.3 326.2,365.1 329,365C331.8,364.9 335.2,364.7 340.8,363.5C346.4,362.3 356.6,359.6 362.4,358C368.2,356.4 372.2,355.2 375.8,353.8C379.4,352.4 382.5,350.4 384.3,349.4C386.1,348.4 386.1,349.1 386.8,347.9C387.5,346.8 388.1,344.5 388.6,342.3C389.2,340.1 389.5,338 390.1,335C390.7,332 391.6,328.1 392.3,324.4C393,320.8 393.8,318 394.5,313.3C395.2,308.7 395.8,301.3 396.8,296.6C397.8,292 399.5,286.4 400.5,285.7C401.5,285 402.1,289.5 402.8,292.2C403.5,295 404.1,298.7 404.8,302.2C405.5,305.7 406.1,309.2 406.9,313.3C407.7,317.5 408.8,323 409.8,327.2C410.8,331.4 411.7,335.5 413,338.5C414.3,341.5 416.1,343.5 417.8,345C419.5,346.5 421.5,346.3 423.2,347.7C424.9,349.1 427,350.6 428.2,353.3C429.4,355.9 429.2,361.8 430.5,363.6C431.8,365.4 432.8,364.4 435.8,364C438.8,363.6 443.6,362.1 448.5,361.2C453.4,360.3 459.4,360 464.9,358.7C470.4,357.4 477.3,354.6 481.3,353.2C485.3,351.8 486.9,350.9 488.8,350.1C490.7,349.3 491.5,350.1 492.7,348.4C493.9,346.7 495.2,342.9 496,339.8C496.8,336.7 497,334.4 497.6,330C498.2,325.6 499.1,318.9 499.8,313.3C500.5,307.8 501.1,302.2 501.8,296.6" stroke="#808080" stroke-width="1.0" stroke-dasharray="2.2,1.5"/>
<path d="M318,346C318.8,347 319.7,347 320.5,349C321.3,351 321.9,355.7 323,358C324.1,360.3 325.5,362.2 327,363C328.5,363.8 329.7,363.2 332,363C334.3,362.8 335.9,362.7 341,361.5C346.1,360.3 356.8,357.6 362.6,356C368.4,354.4 372.4,353.4 376,352.2C379.6,351 382.7,349.4 384.5,348.6C386.3,347.8 386.3,348.4 387,347.4C387.7,346.3 388.2,344.4 388.8,342.3C389.4,340.2 389.7,338.6 390.3,335C390.9,331.4 391.8,326.3 392.5,321C393.2,315.6 393.9,310.4 394.7,302.9C395.4,295.4 396,283.3 397,275.8C398,268.3 399.7,259.2 400.7,258C401.7,256.8 402.3,264.1 403,268.6C403.7,273 404.3,279.1 405,284.8C405.7,290.6 406.3,296.1 407.1,302.9C407.9,309.7 409,319.5 410,325.5C411,331.4 411.9,335.2 413.2,338.5C414.5,341.8 416.3,343.5 418,345C419.7,346.5 421.7,346.1 423.4,347.2C425.1,348.3 427.2,349.4 428.4,351.8C429.6,354.2 429.4,359.9 430.7,361.6C432,363.3 433,362.4 436,362C439,361.6 443.8,360.1 448.7,359.2C453.6,358.3 459.6,357.9 465.1,356.7C470.6,355.5 477.5,353 481.5,351.7C485.5,350.5 487.1,349.9 489,349.2C490.9,348.5 491.7,349.3 492.9,347.8C494.1,346.2 495.4,342.8 496.2,339.8C497,336.8 497.2,336.2 497.8,330C498.4,323.8 499.3,311.9 500,302.9C500.7,293.9 501.3,284.8 502,275.8" stroke="#383838" stroke-width="1.0" stroke-dasharray="2.2,1.5"/>
<path d="M318.3,351.1C319.1,353.4 320.1,355.4 320.8,358C321.5,360.6 321.4,364.9 322.7,366.5C324,368.1 325.6,368.1 328.5,367.9C331.4,367.7 334.7,366.8 340.3,365.5C345.9,364.2 356.1,361.7 361.9,360C367.7,358.3 371.7,357 375.3,355.4C378.9,353.8 382,351.4 383.8,350.2C385.6,349 385.6,349.8 386.3,348.5C387,347.1 387.6,344.5 388.1,342.3C388.7,340.1 389,338.8 389.6,335C390.2,331.2 391.1,325.5 391.8,319.3C392.5,313.1 393.2,306.8 394,297.9C394.8,288.9 395.3,274.6 396.3,265.7C397.3,256.8 399,246 400,244.6C401,243.2 401.6,251.8 402.3,257.1C403,262.4 403.6,269.6 404.3,276.4C405,283.2 405.6,289.8 406.4,297.9C407.2,305.9 408.3,317.9 409.3,324.6C410.3,331.4 411.2,335.1 412.5,338.5C413.8,341.9 415.6,343.4 417.3,345C419,346.6 421,346.6 422.7,348.2C424.4,349.8 426.5,351.9 427.7,354.8C428.9,357.7 428.7,363.7 430,365.6C431.3,367.5 432.3,366.4 435.3,366C438.3,365.6 443.1,364.1 448,363.2C452.9,362.3 458.9,362.1 464.4,360.7C469.9,359.3 476.8,356.3 480.8,354.7C484.8,353.1 486.4,352 488.3,351.1C490.2,350.1 491,350.9 492.2,349C493.4,347.1 494.7,343 495.5,339.8C496.3,336.6 496.5,337 497.1,330C497.7,323 498.6,308.6 499.3,297.9C500,287.1 500.6,276.4 501.3,265.7" stroke="#333" stroke-width="1.0" stroke-dasharray="1.6,0.8,0.8,0.8"/>
<path d="M318,352C318.8,354.7 319.8,357.2 320.5,360C321.2,362.8 321.1,366.9 322.4,368.5C323.7,370.1 325.3,370.1 328.2,369.9C331.1,369.7 334.4,368.8 340,367.5C345.6,366.2 355.8,363.8 361.6,362C367.4,360.2 371.4,358.8 375,357C378.6,355.2 381.7,352.3 383.5,351C385.3,349.7 385.3,350.4 386,349C386.7,347.6 387.2,344.6 387.8,342.3C388.4,340 388.7,338.7 389.3,335C389.9,331.3 390.8,325.8 391.5,320C392.2,314.2 392.9,308.3 393.7,300C394.4,291.7 395,278.3 396,270C397,261.7 398.7,251.6 399.7,250.3C400.7,249 401.3,257.1 402,262C402.7,266.9 403.3,273.7 404,280C404.7,286.3 405.3,292.5 406.1,300C406.9,307.5 408,318.6 409,325C410,331.4 410.9,335.2 412.2,338.5C413.5,341.8 415.3,343.3 417,345C418.7,346.7 420.7,346.8 422.4,348.7C424.1,350.6 426.2,353.1 427.4,356.3C428.6,359.5 428.4,365.7 429.7,367.6C431,369.6 432,368.4 435,368C438,367.6 442.8,366.1 447.7,365.2C452.6,364.3 458.6,364.2 464.1,362.7C469.6,361.2 476.5,358 480.5,356.2C484.5,354.4 486.1,353.1 488,352C489.9,350.9 490.7,351.6 491.9,349.6C493.1,347.6 494.4,343.1 495.2,339.8C496,336.5 496.2,336.6 496.8,330C497.4,323.4 498.3,310 499,300C499.7,290 500.3,280 501,270" stroke="#484848" stroke-width="1.2"/>
<path d="M318,358C318.7,357.7 319.2,357.6 320.2,357C321.2,356.4 322.6,355.2 323.8,354.5C325,353.8 326.1,352.7 327.5,352.5C328.9,352.3 331,353.1 332.5,353.5C334,353.9 335.2,354.9 336.5,355C337.8,355.1 337,354.3 340,354C343,353.7 349.6,353.4 354.4,353C359.2,352.6 364.5,352.1 368.9,351.5C373.3,350.9 378.5,350.2 381,349.5C383.5,348.8 383.2,349.2 384,347C384.8,344.8 385.1,340.5 385.8,336C386.5,331.5 387.3,324.7 388,320C388.7,315.3 389.3,311.7 390,308C390.7,304.3 391.2,300.7 392,298C392.8,295.3 393.9,293.3 395,292C396.1,290.7 397.6,289.6 398.6,290.3C399.6,291 400.3,293.1 401,296C401.7,298.9 402.3,303.7 403,308C403.7,312.3 404.3,317.8 405,322C405.7,326.2 406.2,330 407,333C407.8,336 408.7,338.1 410,340C411.3,341.9 413.3,343.2 415,344.5C416.7,345.8 418.4,345.9 420,348C421.6,350.1 423.1,356.2 424.4,357.3C425.7,358.4 426.8,355.2 428,354.5C429.2,353.8 428.6,353.1 431.4,353.2C434.2,353.3 439.4,354.9 445,355C450.6,355.1 459.2,354.2 465,353.5C470.8,352.8 476.1,351.8 480,351C483.9,350.2 486.4,349.8 488.3,349C490.2,348.2 490.7,349.2 491.5,346C492.3,342.8 492.7,337.7 493.2,330C493.7,322.3 494,310 494.6,300C495.2,290 495.9,280 496.6,270" stroke="#ff3cff" stroke-width="1.35"/>
<path d="M318,359C318.7,359.2 319.2,360.3 320.2,359.7C321.2,359.1 322.6,356.6 323.8,355.4C325,354.2 326.1,352.8 327.5,352.5C328.9,352.2 331.1,353.2 332.5,353.9C333.9,354.6 335,356.7 336.2,356.8C337.4,356.9 336.8,355.2 339.8,354.6C342.8,354 349.5,353.7 354.4,353.2C359.2,352.7 364.3,352.3 368.9,351.7C373.5,351.1 379.3,350.4 382,349.5C384.7,348.6 384.2,349 384.9,346.6C385.6,344.2 385.8,339.3 386.4,335C387,330.7 387.7,325.2 388.3,321C388.9,316.8 389.4,313.4 390,310C390.6,306.6 391.1,303.1 391.8,300.4C392.5,297.7 393.1,295.9 394,294C394.9,292.1 396.4,289.1 397.4,289.1C398.4,289.1 399.2,291.4 400,294C400.8,296.6 401.3,300.7 402,305C402.7,309.3 403.6,315.8 404.3,320C405,324.2 405.2,327 406,330C406.8,333 407.6,335.7 409,338C410.4,340.3 412.9,341.8 414.7,343.6C416.5,345.4 418.1,346.9 419.8,348.7C421.5,350.5 422.9,353.8 424.8,354.5C426.7,355.2 428.1,352.6 431.4,352.9C434.7,353.2 441.4,356 444.5,356.2C447.6,356.4 448.4,354 450,354C451.6,354 451.8,356.2 454.3,356.2C456.8,356.2 460.7,354.9 465,354C469.3,353.1 476.1,351.7 480,351C483.9,350.3 486.6,350.4 488.6,349.6C490.6,348.8 491.1,349.7 491.9,346.4C492.7,343.1 493.1,337.7 493.6,330C494.1,322.3 494.4,310 495,300C495.6,290 496.3,280 497,270" stroke="#5555ff" stroke-width="1.35"/>
<path d="M318,360C318.7,359.3 319.2,359 320.2,358C321.2,357 322.6,354.9 323.8,354C325,353.1 326.1,352.7 327.5,352.5C328.9,352.3 330.4,352.8 332.5,353C334.6,353.2 336.4,353.6 340,353.5C343.6,353.4 349.6,352.9 354.4,352.5C359.2,352.1 364.6,351.5 368.9,351C373.2,350.5 377.6,350 380,349.5C382.4,349 382.2,349.6 383,348C383.8,346.4 384.3,344.7 385,340C385.7,335.3 386.3,325.8 387,320C387.7,314.2 388.5,309.2 389.3,305.4C390.1,301.6 390.9,299.1 392,297C393.1,294.9 394.6,292.9 395.6,292.7C396.6,292.5 397.3,293.9 398,296C398.7,298.1 399.3,301 400,305C400.7,309 401.3,315.5 402,320C402.7,324.5 403,328.7 404,332C405,335.3 406.3,338 408,340C409.7,342 412.3,342.8 414,344C415.7,345.2 416.8,344.6 418,347C419.2,349.4 420.3,357.1 421.5,358.6C422.7,360.1 423.9,356.8 425,356C426.1,355.2 425.6,354.2 428.1,353.7C430.6,353.2 434.7,353.2 440,353C445.3,352.8 453.3,353 460,352.5C466.7,352 475.3,350.6 480,350C484.7,349.4 486.2,349.4 488,348.7C489.8,348 490.2,349.1 491,346C491.8,342.9 492,337.7 492.5,330C493,322.3 493.4,310 494,300C494.6,290 495.3,280 496,270" stroke="#ff4040" stroke-width="1.35"/>
<path d="M508.7,290C509.4,295 510.1,298.8 510.7,305C511.3,311.2 511.5,321.9 512.2,327.5C512.9,333.1 513.7,335.2 514.7,338.3C515.7,341.4 516.9,344.1 518,345.8C519.1,347.5 520.3,347.9 521.4,348.3C522.5,348.7 523.7,347.7 524.7,348.3C525.7,348.9 526.5,350.3 527.2,351.7C527.9,353.1 528.4,355.4 528.9,356.7C529.5,357.9 529.7,358.3 530.5,359.2C531.3,360.1 532.6,361.1 533.7,362" stroke="#ff3cff" stroke-width="1.35"/>
<path d="M509.8,291C510.5,296 511.2,299.8 511.8,306C512.4,312.2 512.6,322.9 513.3,328.5C514,334.1 514.8,336.2 515.8,339.3C516.8,342.4 518,345.1 519.1,346.8C520.2,348.5 521.4,348.9 522.5,349.3C523.6,349.7 524.8,348.7 525.8,349.3C526.8,349.9 527.6,351.3 528.3,352.7C529,354.1 529.5,356.4 530,357.7C530.5,358.9 530.8,359.3 531.6,360.2C532.4,361.1 533.7,362.1 534.8,363" stroke="#5555ff" stroke-width="1.35"/>
<path d="M509,290C509.7,295 510.4,298.8 511,305C511.6,311.2 511.8,321.9 512.5,327.5C513.2,333.1 514,335.2 515,338.3C516,341.4 517.2,344.1 518.3,345.8C519.4,347.5 520.6,347.9 521.7,348.3C522.8,348.7 524,347.7 525,348.3C526,348.9 526.8,350.3 527.5,351.7C528.2,353.1 528.7,355.4 529.2,356.7C529.8,357.9 530,358.3 530.8,359.2C531.6,360.1 532.9,361.1 534,362" stroke="#ff4040" stroke-width="1.35"/>
<path d="M512,290C512.7,295 513.2,298.8 514,305C514.8,311.2 515.7,321.7 516.7,327.5C517.7,333.3 518.9,336.9 520,340C521.1,343.1 521.9,344.4 523.3,345.8C524.7,347.2 526.9,347.1 528.3,348.3C529.7,349.6 530.8,351.9 531.7,353.3C532.7,354.8 533.2,355.8 534,357" stroke="#484848" stroke-width="1.2"/>
<path d="M511,289C511.7,294 512.2,297.8 513,304C513.8,310.2 514.7,320.7 515.7,326.5C516.7,332.3 517.9,335.9 519,339C520.1,342.1 520.9,343.4 522.3,344.8C523.7,346.2 525.9,346.1 527.3,347.3C528.7,348.6 529.8,350.9 530.7,352.3C531.7,353.8 532.2,354.8 533,356" stroke="#333" stroke-width="1.0" stroke-dasharray="1.6,0.8,0.8,0.8"/>
<path d="M511.5,291C512.2,296 512.7,299.8 513.5,306C514.3,312.2 515.2,322.7 516.2,328.5C517.2,334.3 518.4,337.9 519.5,341C520.6,344.1 521.4,345.4 522.8,346.8C524.2,348.2 526.4,348.1 527.8,349.3C529.2,350.6 530.2,352.9 531.2,354.3C532.2,355.8 532.7,356.8 533.5,358" stroke="#383838" stroke-width="1.0" stroke-dasharray="2.2,1.5"/>
</g>
<rect x="320.5" y="224.6" width="212.1" height="166.2" fill="none" stroke="#6a6a6a" stroke-width="1"/>
<text x="320.5" y="402.5" text-anchor="middle">2</text>
<text x="348.8" y="402.5" text-anchor="middle">4</text>
<text x="377.1" y="402.5" text-anchor="middle">6</text>
<text x="405.3" y="402.5" text-anchor="middle">8</text>
<text x="433.6" y="402.5" text-anchor="middle">10</text>
<text x="461.9" y="402.5" text-anchor="middle">12</text>
<text x="490.2" y="402.5" text-anchor="middle">14</text>
<text x="518.5" y="402.5" text-anchor="middle">16</text>
<text x="317.9" y="394.5" text-anchor="end">-100</text>
<text x="317.9" y="373.7" text-anchor="end">-50</text>
<text x="317.9" y="352.9" text-anchor="end">0</text>
<text x="317.9" y="332.2" text-anchor="end">50</text>
<text x="317.9" y="311.4" text-anchor="end">100</text>
<text x="317.9" y="290.6" text-anchor="end">150</text>
<text x="317.9" y="269.8" text-anchor="end">200</text>
<text x="317.9" y="249.1" text-anchor="end">250</text>
<text x="317.9" y="228.3" text-anchor="end">300</text>
<path d="M320.5,390.8V388.7M320.5,224.6V226.7M348.8,390.8V388.7M348.8,224.6V226.7M377.1,390.8V388.7M377.1,224.6V226.7M405.3,390.8V388.7M405.3,224.6V226.7M433.6,390.8V388.7M433.6,224.6V226.7M461.9,390.8V388.7M461.9,224.6V226.7M490.2,390.8V388.7M490.2,224.6V226.7M518.5,390.8V388.7M518.5,224.6V226.7M320.5,390.8H322.6M532.6,390.8H530.5M320.5,370H322.6M532.6,370H530.5M320.5,349.2H322.6M532.6,349.2H530.5M320.5,328.5H322.6M532.6,328.5H530.5M320.5,307.7H322.6M532.6,307.7H530.5M320.5,286.9H322.6M532.6,286.9H530.5M320.5,266.1H322.6M532.6,266.1H530.5M320.5,245.4H322.6M532.6,245.4H530.5M320.5,224.6H322.6M532.6,224.6H530.5" stroke="#6a6a6a" stroke-width="1" fill="none"/>
<text x="426.6" y="221.8" text-anchor="middle" font-weight="bold" font-size="9.7">Wave train 12</text>
<text x="426.6" y="413.8" text-anchor="middle" font-size="9.4">Time [s]</text>
<text transform="translate(292.8,307.2) rotate(-90)" text-anchor="middle" font-size="10">F<tspan font-size="7.4" dy="3.2" style="stroke-width:0.15px">totX</tspan><tspan dy="-3.2" dx="0.8" font-size="9.6"> [N]</tspan></text>
<rect x="457.7" y="227" width="73.7" height="99.4" fill="#fff" stroke="#6a6a6a" stroke-width="1"/>
<path d="M458.5,233.3H468.3" stroke="#8c8c8c" stroke-width="1.05"/>
<text x="468.9" y="236.5" font-size="9.5">Line 1</text>
<path d="M458.5,244.2H468.3" stroke="#383838" stroke-width="1.0" stroke-dasharray="2.2,1.5"/>
<text x="468.9" y="247.4" font-size="9.5">Line 2</text>
<path d="M458.5,255.2H468.3" stroke="#5555ff" stroke-width="1.35"/>
<text x="468.9" y="258.4" font-size="9.5">Surrogate run 1</text>
<path d="M458.5,266.1H468.3" stroke="#333" stroke-width="1.0" stroke-dasharray="1.6,0.8,0.8,0.8"/>
<text x="468.9" y="269.3" font-size="9.5">Line 3</text>
<path d="M458.5,277.1H468.3" stroke="#484848" stroke-width="1.2"/>
<text x="468.9" y="280.3" font-size="9.5">Line 4</text>
<path d="M458.5,288.1H468.3" stroke="#ff3cff" stroke-width="1.35"/>
<text x="468.9" y="291.2" font-size="9.5">Surrogate run 2</text>
<path d="M458.5,299H468.3" stroke="#c6c6c6" stroke-width="1.05"/>
<text x="468.9" y="302.2" font-size="9.5">Line 5</text>
<path d="M458.5,309.9H468.3" stroke="#808080" stroke-width="1.0" stroke-dasharray="2.2,1.5"/>
<text x="468.9" y="313.1" font-size="9.5">Line 6</text>
<path d="M458.5,320.9H468.3" stroke="#ff4040" stroke-width="1.35"/>
<text x="468.9" y="324.1" font-size="9.5">Surrogate run 3</text>
</svg></body></html>
